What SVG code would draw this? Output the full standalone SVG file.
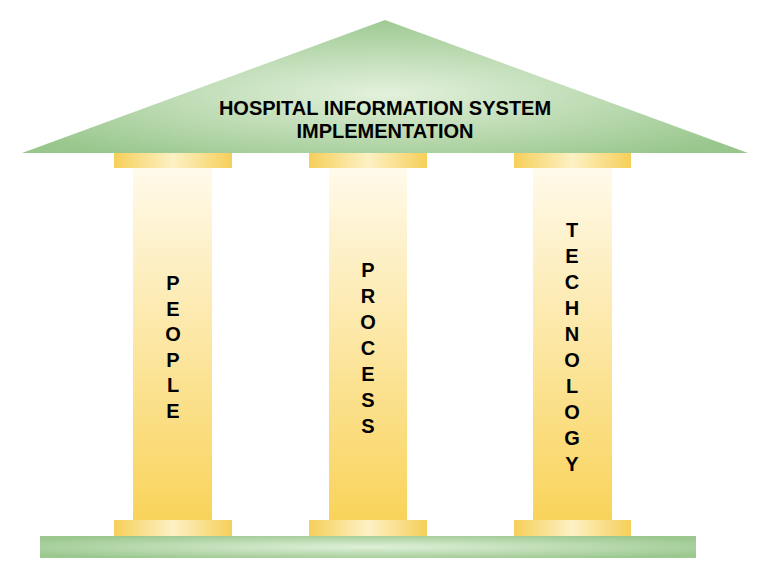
<svg xmlns="http://www.w3.org/2000/svg" width="770" height="578" viewBox="0 0 770 578">
<defs>
<radialGradient id="roof" cx="0.5" cy="0.55" r="0.6"><stop offset="0" stop-color="#e3f1dc"/><stop offset="1" stop-color="#98c68c"/></radialGradient>
<radialGradient id="slab" cx="0.5" cy="0.5" r="0.6"><stop offset="0" stop-color="#dff0d8"/><stop offset="1" stop-color="#9cc890"/></radialGradient>
<linearGradient id="shaft" x1="0" y1="0" x2="0" y2="1"><stop offset="0" stop-color="#fffaeb"/><stop offset="1" stop-color="#f9d35a"/></linearGradient>
<linearGradient id="cap" x1="0" y1="0" x2="1" y2="0"><stop offset="0" stop-color="#f6cf5a"/><stop offset="0.5" stop-color="#fdf1c4"/><stop offset="1" stop-color="#f6cf5a"/></linearGradient>
</defs>
<style>
.t{font-family:"Liberation Sans",Arial,sans-serif;font-weight:bold;font-size:20px;fill:#000;text-anchor:middle}
.l{font-family:"Liberation Sans",Arial,sans-serif;font-weight:bold;font-size:20px;fill:#000;text-anchor:middle}
</style>
<rect width="770" height="578" fill="#fff"/>
<g id="roof-node">
<polygon points="385,20 22,153 748,153" fill="url(#roof)"/>
<text class="t" x="385" y="115">HOSPITAL INFORMATION SYSTEM</text>
<text class="t" x="385" y="138">IMPLEMENTATION</text>
</g>
<g id="people">
<rect x="114" y="153" width="118" height="15" fill="url(#cap)"/>
<rect x="133" y="168" width="79" height="352" fill="url(#shaft)"/>
<rect x="114" y="520" width="118" height="16" fill="url(#cap)"/>
<text class="l" x="173"><tspan x="173" y="290">P</tspan><tspan x="173" y="315.5">E</tspan><tspan x="173" y="341">O</tspan><tspan x="173" y="366.5">P</tspan><tspan x="173" y="392">L</tspan><tspan x="173" y="417.5">E</tspan></text>
</g>
<g id="process">
<rect x="309" y="153" width="118" height="15" fill="url(#cap)"/>
<rect x="329" y="168" width="78" height="352" fill="url(#shaft)"/>
<rect x="309" y="520" width="118" height="16" fill="url(#cap)"/>
<text class="l" x="368"><tspan x="368" y="277">P</tspan><tspan x="368" y="303">R</tspan><tspan x="368" y="329">O</tspan><tspan x="368" y="355">C</tspan><tspan x="368" y="381">E</tspan><tspan x="368" y="407">S</tspan><tspan x="368" y="433">S</tspan></text>
</g>
<g id="technology">
<rect x="514" y="153" width="117" height="15" fill="url(#cap)"/>
<rect x="533" y="168" width="79" height="352" fill="url(#shaft)"/>
<rect x="514" y="520" width="117" height="16" fill="url(#cap)"/>
<text class="l" x="572"><tspan x="572" y="237">T</tspan><tspan x="572" y="263">E</tspan><tspan x="572" y="289">C</tspan><tspan x="572" y="315">H</tspan><tspan x="572" y="341">N</tspan><tspan x="572" y="367">O</tspan><tspan x="572" y="393">L</tspan><tspan x="572" y="419">O</tspan><tspan x="572" y="445">G</tspan><tspan x="572" y="471">Y</tspan></text>
</g>
<g id="base">
<rect x="40" y="536" width="656" height="22" fill="url(#slab)"/>
</g>
<g id="connectors"/>
</svg>
